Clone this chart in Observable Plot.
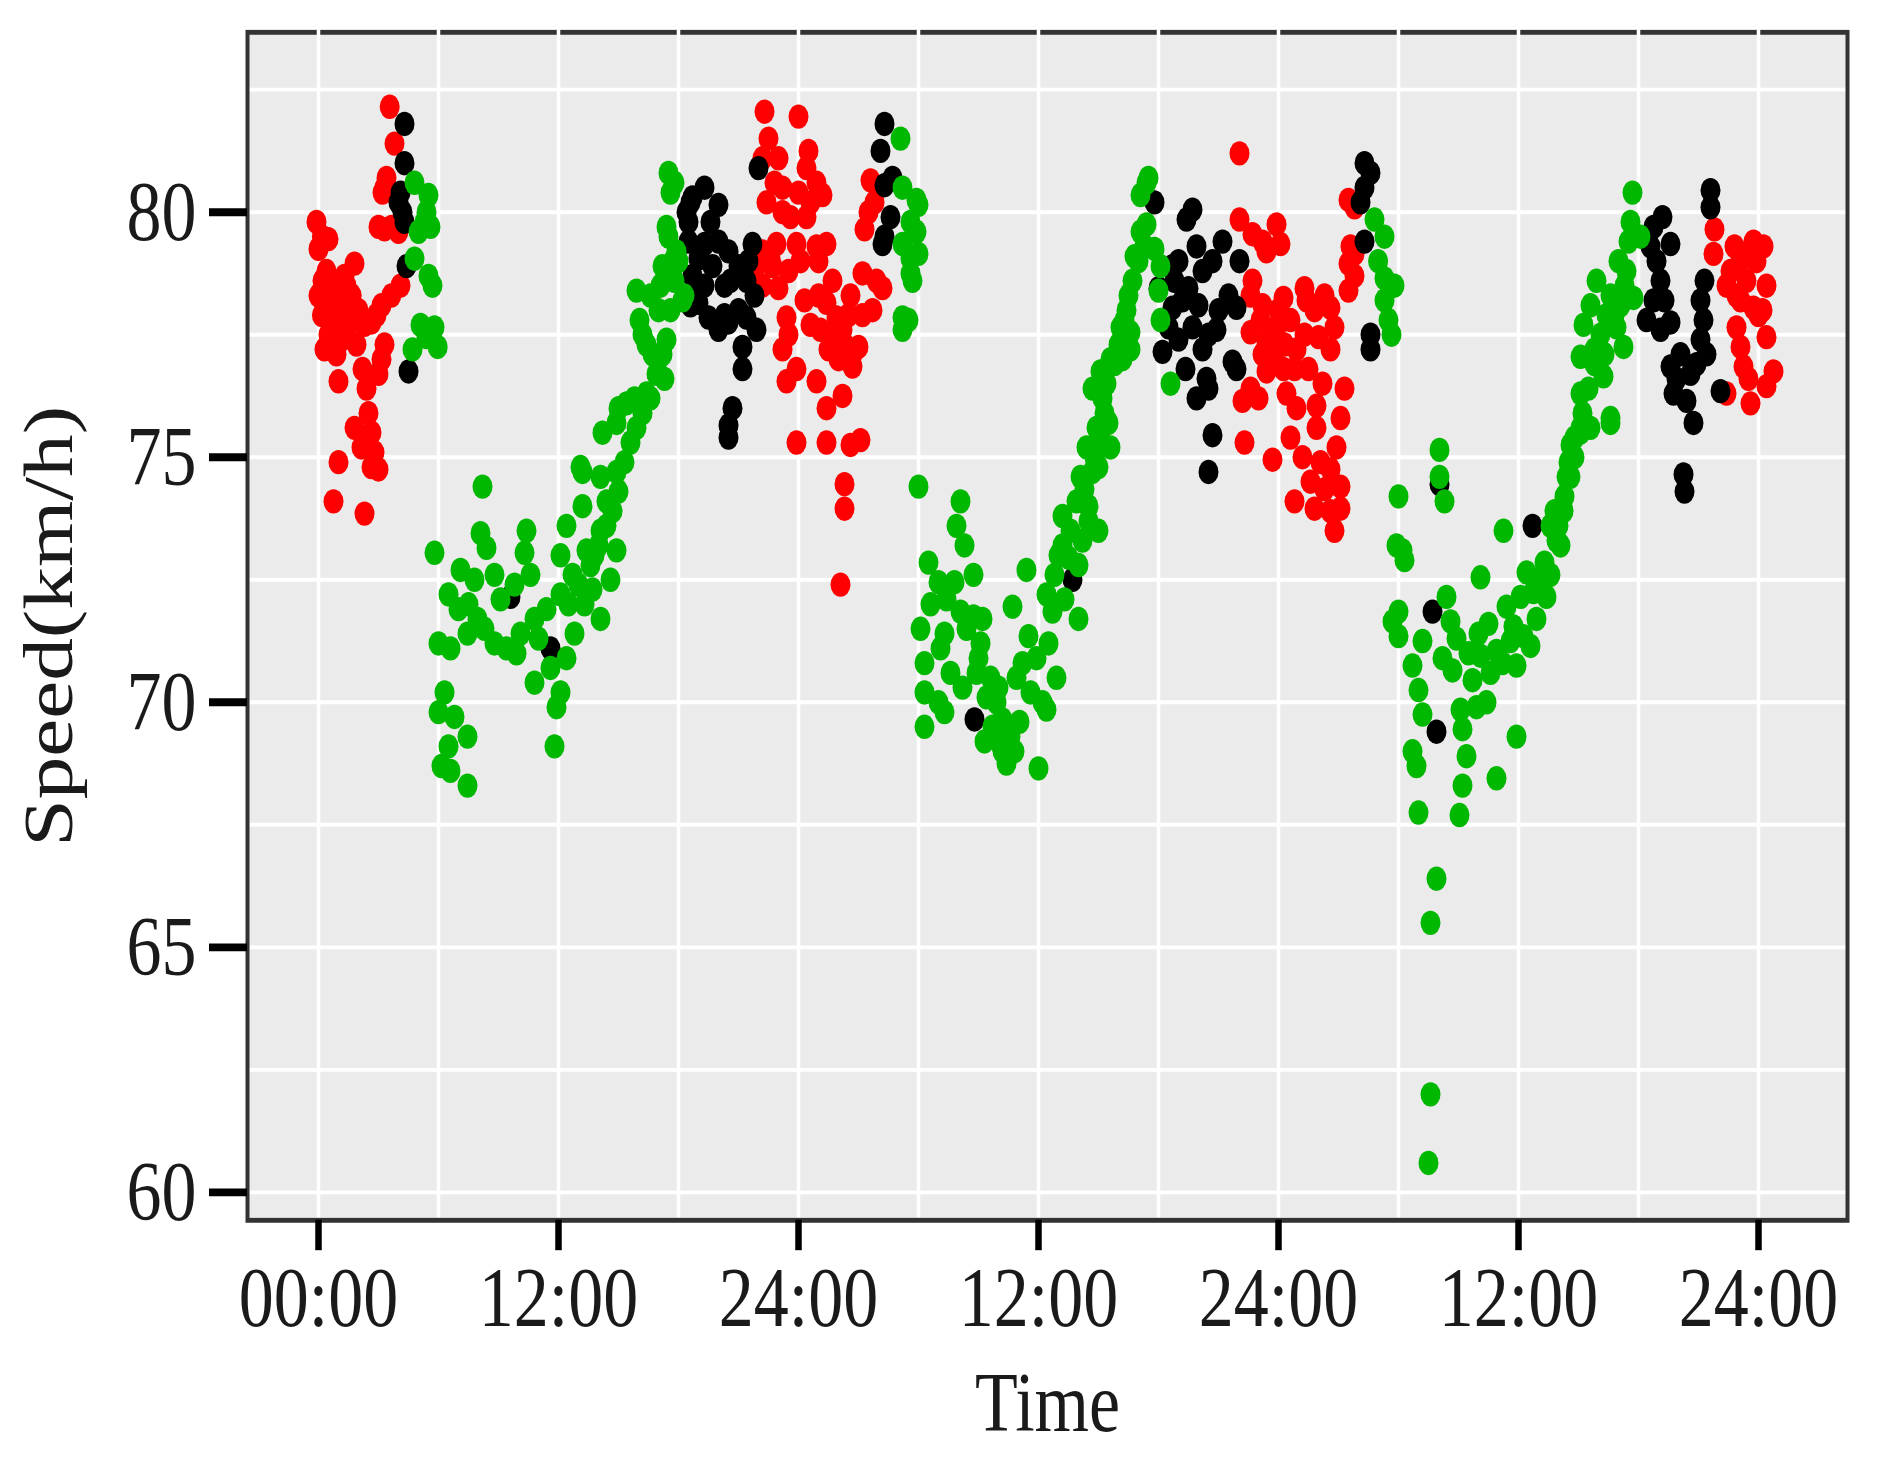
<!DOCTYPE html>
<html>
<head>
<meta charset="utf-8">
<script src="https://cdn.jsdelivr.net/npm/d3@7"></script>
<script src="https://cdn.jsdelivr.net/npm/@observablehq/plot@0.6"></script>
<style>
html, body { margin: 0; padding: 0; background: #fff; overflow: hidden; }
#chart svg { display: block; }
</style>
</head>
<body>
<div id="chart"></div>
<script>
// ---- data: [hour since start, speed km/h] ----
const red = [
  [3.56,82.15],[3.8,81.4],[3.4,80.7],[3.3,80.5],[3.2,80.4],
  [3.0,79.7],[3.3,79.65],[3.65,79.7],[4.0,79.6],
  [-0.1,79.8],[0.17,79.5],[0.5,79.45],[0.0,79.25],
  [1.8,78.95],[1.3,78.7],[0.66,78.6],[0.0,78.3],[0.33,78.2],[1.0,78.2],[1.66,78.3],[0.17,77.9],[0.83,77.8],[1.5,77.7],[0.5,77.5],[1.16,77.4],[2.0,78.0],[2.3,77.7],
  [0.4,78.8],[1.2,78.0],[0.9,77.1],[1.4,78.5],[0.2,78.6],
  [0.6,78.0],[1.6,77.9],[1.9,77.3],[2.2,76.8],[2.4,76.4],[0.3,77.2],
  [2.65,77.75],[3.15,78.1],[3.64,78.3],[4.1,78.5],[2.9,77.9],
  [3.3,77.3],[3.15,77.0],[3.0,76.7],[1.0,76.55],
  [2.5,75.9],[1.8,75.6],[2.65,75.5],[2.15,75.2],[2.8,75.1],[2.65,74.8],[3.0,74.75],
  [1.0,74.9],[0.75,74.1],[2.3,73.85],
  [22.3,82.05],[24.0,81.95],[22.5,81.5],
  [22.2,81.1],[23.0,81.1],[24.5,81.25],[24.4,80.9],[24.9,80.6],[23.2,80.5],[24.0,80.4],[22.4,80.2],[23.2,80.0],[24.4,79.9],[25.2,80.35],[24.6,80.2],[22.8,80.6],[23.6,79.9],
  [22.2,79.2],[22.9,79.35],[23.9,79.35],[24.9,79.3],[25.4,79.35],[21.9,78.9],[22.7,78.9],[23.5,78.8],[22.2,78.5],[23.0,78.45],[22.6,79.05],[24.1,79.0],[25.0,79.0],
  [25.0,78.3],[25.7,78.6],[27.2,78.75],[27.9,78.6],[28.2,78.45],[25.4,78.15],[26.6,78.3],[24.3,78.2],
  [27.6,80.65],[27.5,80.0],[27.3,79.65],[27.8,80.2],
  [23.4,77.85],[23.5,77.5],[23.2,77.2],[24.6,77.7],[25.1,77.6],[26.3,77.3],
  [25.9,77.85],[26.5,77.9],[27.2,77.9],[27.7,78.0],[25.7,77.5],[26.2,77.6],[25.5,77.2],[26.0,77.0],[26.7,77.1],[27.0,77.25],[26.7,76.85],
  [23.9,76.8],[23.4,76.55],[24.9,76.55],[25.4,76.0],[26.2,76.25],
  [23.9,75.3],[25.4,75.3],[26.6,75.25],[27.1,75.35],
  [26.3,74.45],[26.3,73.95],[26.1,72.4],
  [46.05,81.2],
  [46.05,79.85],[46.7,79.55],[47.2,79.4],[47.9,79.75],[48.1,79.35],[47.4,79.2],
  [46.7,78.6],[46.6,78.3],[47.2,78.1],[48.25,78.25],[49.3,78.45],[49.4,78.2],[47.1,77.8],[47.9,77.65],[48.6,77.8],[49.3,77.5],[50.0,77.45],[46.6,77.55],[47.4,77.35],[47.2,77.1],[47.4,76.75],[48.25,76.8],[48.8,76.8],
  [48.0,78.0],[47.6,77.6],[48.9,77.2],[47.8,77.0],[48.3,77.3],[49.8,78.0],[50.3,78.3],
  [50.6,78.05],[50.8,77.65],[50.6,77.2],[51.5,78.4],[51.8,78.7],[51.5,78.95],[51.6,79.3],[51.8,79.15],
  [51.5,80.25],[51.8,80.1],
  [46.6,76.4],[46.2,76.15],[46.3,75.3],[47.7,74.95],[48.6,75.4],[48.9,76.0],[49.9,76.05],[49.9,75.6],[51.1,75.8],[51.3,76.4],[50.1,74.9],[50.6,74.75],[51.1,74.4],[50.3,74.35],[48.8,74.1],[49.8,73.95],[50.6,73.9],[51.1,73.95],[50.8,73.5],
  [47.0,76.2],[48.4,76.3],[49.5,76.8],[50.2,76.5],[49.2,75.0],[49.6,74.5],[50.9,75.2],
  [69.8,79.65],[69.75,79.15],[71.75,79.4],[72.25,79.3],[71.1,79.0],[70.6,78.8],[70.4,78.5],[71.4,78.6],[72.4,78.5],[71.1,78.2],[71.75,78.05],[70.9,77.65],[72.4,77.45],[71.1,77.25],[71.25,76.85],[72.75,76.75],[72.4,76.45],[71.6,76.1],[70.4,76.3],[71.9,79.0],[70.8,79.3],
  [71.5,79.1],[70.9,78.3],[72.0,77.9],[72.2,78.0],[71.5,76.6]
];

const black = [
  [4.3,81.8],[4.3,81.0],[4.1,80.4],[4.0,80.2],[4.3,79.8],[4.4,78.9],[4.5,76.75],[4.2,80.0],
  [9.6,72.15],[11.6,71.1],
  [18.4,80.0],[18.7,80.3],[18.5,79.4],[18.7,78.7],[18.6,78.1],
  [19.3,80.5],[20.0,80.15],[18.6,80.2],[18.5,79.8],[19.3,79.35],[20.0,79.4],[19.0,79.05],[19.7,78.9],[20.5,79.2],[21.0,78.9],[21.7,79.35],[21.4,78.6],[20.3,78.5],[18.8,78.45],[19.0,78.15],[19.5,77.85],[20.0,77.6],[20.5,77.75],[21.0,78.0],[21.4,77.85],[21.9,77.6],[21.2,77.25],[21.2,76.8],[20.7,76.0],[20.5,75.65],[20.5,75.4],[22.0,80.9],
  [19.6,79.8],[20.6,78.6],[21.5,79.0],[19.3,78.5],[20.3,77.9],[21.8,78.3],
  [28.3,81.8],[28.1,81.25],[28.7,80.7],[28.3,80.55],[28.6,79.9],[28.3,79.5],[28.2,79.35],
  [32.8,69.65],[37.7,72.5],
  [41.8,80.2],[43.7,80.05],[43.4,79.85],[43.9,79.3],[45.2,79.4],[44.7,79.0],[46.05,79.0],[44.2,78.8],[42.8,78.6],[42.0,78.45],[43.5,78.45],[45.5,78.3],[45.9,78.05],[42.7,78.05],[43.2,78.2],[42.5,77.65],[43.7,77.65],[44.5,77.5],[44.9,77.6],[42.2,77.15],[43.35,76.8],[44.4,76.6],[44.5,76.4],[45.7,76.95],[45.9,76.8],[44.7,75.45],[44.5,74.7],[43.0,79.0],[44.0,78.1],
  [43.0,77.4],[44.2,77.2],[42.7,78.9],[45.0,78.0],[43.9,76.2],
  [52.3,81.0],[52.6,80.8],[52.3,80.5],[52.1,80.2],[52.3,79.4],[52.6,77.5],[52.6,77.2],
  [56.05,74.45],[55.7,71.85],[55.9,69.4],[60.7,73.6],
  [66.75,79.7],[67.6,79.35],[66.9,79.0],[67.1,78.6],[66.75,78.2],[66.4,77.8],[67.6,77.75],[67.1,77.6],[69.6,80.45],[69.6,80.1],[69.1,78.2],[69.25,77.8],[69.1,77.4],[67.6,76.85],[68.1,77.1],[68.6,76.7],[67.75,76.3],[68.4,76.15],[68.75,75.7],[68.25,74.65],[68.3,74.3],[70.1,76.35],[69.3,78.6],[67.2,79.9],
  [66.6,79.3],[67.3,78.2],[68.9,76.9],[67.9,76.6],[69.4,77.1]
];

const green = [
  [4.8,80.6],[5.5,80.35],[5.3,79.8],[5.6,79.7],[5.0,79.6],[4.8,79.05],[5.5,78.7],[5.7,78.5],[5.1,77.7],[5.8,77.65],[5.96,77.25],[4.7,77.2],[5.4,77.45],[5.4,80.0],
  [5.8,73.05],[8.2,74.4],[8.1,73.45],[8.4,73.15],[10.4,73.5],[10.3,73.05],
  [7.1,72.7],[7.8,72.5],[8.8,72.6],[6.5,72.2],[7.0,71.9],[6.0,71.2],[6.6,71.1],[7.45,71.4],[7.95,71.7],[9.1,72.1],[9.8,72.4],[10.6,72.6],
  [8.8,71.2],[9.4,71.1],[10.1,71.4],[10.8,71.7],[11.4,71.9],[12.1,72.2],[12.7,72.6],[13.4,73.1],[14.1,73.5],[14.7,73.9],[14.9,73.1],[14.6,72.5],[13.7,72.3],[14.1,71.7],[12.1,73.0],[12.4,73.6],[13.2,74.0],[13.2,74.7],[14.1,74.6],[14.9,74.7],[13.1,74.8],
  [9.9,71.0],[11.0,71.3],[12.5,72.0],[13.0,72.4],[13.8,73.0],[8.3,71.5],[7.5,72.0],
  [12.8,71.4],[13.3,72.0],[13.6,72.8],[14.0,73.2],[14.4,73.6],[14.4,74.1],[15.0,74.3],[15.3,74.9],[15.6,75.3],[15.9,75.6],[16.2,75.9],[16.6,76.2],[17.0,77.0],[17.4,77.4],[17.6,78.0],[17.0,78.0],[17.8,78.6],[18.0,79.0],
  [10.8,70.4],[11.6,70.7],[12.1,70.2],[12.4,70.9],[11.9,69.9],[11.8,69.1],
  [6.3,70.2],[6.0,69.8],[6.8,69.7],[7.45,69.3],[6.5,69.1],[6.15,68.7],[6.6,68.6],[7.45,68.3],
  [14.2,75.5],[14.9,75.7],[15.4,76.1],[16.4,76.3],[16.9,76.7],[16.7,77.1],[16.2,77.5],[16.05,77.8],[15.9,78.4],[16.6,78.3],[17.1,78.5],[17.2,78.9],[17.9,79.2],[18.2,78.2],[17.5,80.8],[17.6,80.4],[17.4,79.7],[15.0,76.0],[15.8,76.2],[16.4,77.3],
  [17.8,80.6],[17.5,79.5],[17.8,79.05],[17.3,78.6],[18.3,78.3],[17.2,77.1],[17.3,76.6],
  [29.1,81.5],[29.2,80.5],[29.9,80.25],[29.6,79.8],[29.9,79.6],[29.2,79.35],[29.6,79.05],[29.7,78.6],[29.2,77.85],[29.2,77.6],[30.0,80.15],[29.8,79.6],[30.0,79.15],[29.6,78.75],[29.5,77.8],
  [30.0,74.4],[32.1,74.1],[31.9,73.6],[32.3,73.2],[30.5,72.85],[31.0,72.45],[31.8,72.45],[30.6,72.0],[31.4,72.1],[32.1,71.85],[32.75,71.75],[33.2,71.7],[30.1,71.5],[31.3,71.4],[31.1,71.1],[32.4,71.5],[32.75,72.6],
  [30.3,70.8],[30.3,70.2],[31.0,70.0],[31.3,69.8],[30.3,69.5],
  [31.6,70.6],[32.2,70.3],[33.3,69.2],[34.8,69.0],[35.6,70.2],
  [33.1,71.2],[32.9,70.6],[33.6,70.5],[33.4,70.1],[33.9,70.0],[34.2,69.65],[33.7,69.5],[34.6,69.3],[34.1,69.15],[34.4,68.75],[34.2,69.0],[36.0,68.65],[35.05,69.6],[34.0,70.3],[33.0,70.9],
  [34.9,70.5],[35.5,71.35],[35.9,70.9],[36.5,71.2],[36.9,70.5],[36.2,70.0],[36.4,69.85],[35.2,70.8],[34.7,71.95],[35.4,72.7],
  [36.4,72.2],[36.7,71.85],[37.3,72.1],[38.0,71.7],
  [37.2,73.8],[37.2,73.2],[37.5,72.95],[38.0,72.8],[38.2,73.3],[38.5,73.7],[39.0,73.5],[38.5,74.0],[38.3,74.35],[38.7,74.7],[38.8,75.0],[39.1,75.35],[39.5,75.7],[39.3,75.9],[39.6,75.2],[39.0,74.8],
  [36.8,72.6],[37.0,73.0],[37.6,73.5],[37.9,74.1],[38.1,74.6],[38.4,75.2],[38.9,75.6],[39.2,76.2],[39.4,76.5],[39.8,76.9],[40.2,77.0],[40.4,78.0],[40.7,78.6],[41.0,79.0],[41.3,79.3],
  [38.7,76.4],[39.1,76.75],[39.6,77.0],[40.0,77.3],[40.1,77.65],[40.6,77.55],[40.3,77.8],[40.5,78.3],[40.6,77.2],
  [40.8,79.1],[41.1,79.6],[41.4,79.75],[41.8,79.25],[42.1,78.9],[41.4,80.6],[41.1,80.35],[42.1,77.8],[42.6,76.5],[41.5,80.7],[42.0,78.4],
  [52.8,79.85],[53.3,79.5],[52.98,79.0],[53.3,78.65],[53.8,78.5],[53.3,78.2],[53.5,77.8],[53.65,77.5],[54.0,74.2],[54.2,73.1],
  [56.05,75.15],[56.05,74.6],[56.3,74.1],[53.9,73.2],[54.3,72.9],[59.25,73.5],[58.1,72.55],
  [54.0,71.85],[53.7,71.65],[54.0,71.35],[55.2,71.25],[56.4,72.15],[56.6,71.65],[54.7,70.75],[55.0,70.25],[55.2,69.75],[54.7,69.0],[54.9,68.7],[55.0,67.75],[55.9,66.4],[55.6,65.5],[55.6,62.0],[55.5,60.6],
  [56.7,70.65],[57.1,69.85],[57.2,69.45],[57.4,68.9],[57.2,68.3],[57.05,67.7],[57.7,70.45],[58.4,70.0],[58.1,70.95],[58.9,71.05],[59.6,71.25],[59.9,70.75],[59.9,69.3],[58.9,68.45],[58.6,70.6],[59.2,70.8],
  [56.2,70.9],[57.5,71.0],[58.0,71.4],[58.5,71.6],[57.9,69.9],[56.9,71.3],
  [59.4,71.95],[59.75,71.55],[60.25,71.35],[60.6,71.15],[60.1,72.15],[60.75,72.25],[60.4,72.65],[61.3,72.85],[61.4,72.15],[61.9,73.3],[61.8,73.9],[62.3,74.2],[62.6,74.6],[62.8,75.0],[63.1,75.5],[63.6,75.6],[64.6,75.7],[61.0,72.5],[61.6,73.6],
  [60.9,71.7],[61.2,72.4],[61.6,72.6],[62.0,73.6],[62.2,74.0],[62.5,74.9],[62.8,75.4],[63.2,75.9],[63.5,76.4],[63.8,77.2],[64.3,77.1],[64.8,77.9],[65.3,78.5],[65.0,79.0],[65.5,79.4],
  [65.7,80.4],[65.6,79.8],[66.1,79.5],[65.4,78.8],[63.9,78.6],[63.6,78.1],[64.4,77.9],[65.1,78.1],[65.75,78.25],[63.25,77.7],[64.1,77.5],[64.9,77.65],[65.25,77.25],[63.1,77.05],[64.25,76.65],[63.1,76.3],[64.6,75.8],[63.1,75.6],[62.6,75.25],[62.4,74.6],[62.25,73.9],[62.1,73.2],[64.6,78.3],[63.8,76.9]
];

// ---- axes ----
const yTicks = [60, 65, 70, 75, 80];
const yGrid = [60, 62.5, 65, 67.5, 70, 72.5, 75, 77.5, 80, 82.5];
const xTickHours = [0, 12, 24, 36, 48, 60, 72];
const xTickLabels = ["00:00", "12:00", "24:00", "12:00", "24:00", "12:00", "24:00"];
const xGridHours = [0, 6, 12, 18, 24, 30, 36, 42, 48, 54, 60, 66, 72];
const xDomain = [-3.55, 76.45];
const yDomain = [59.43, 83.67];
const xTitle = "Time";
const yTitle = "Speed(km/h)";

// ---- layout (the original picture is stretched vertically; draw in a compressed frame and stretch) ----
const W = 1877, H = 1460, K = 1.2197;
const h = Math.round(H / K);
const fontFamily = "'Liberation Serif', 'Times New Roman', serif";
const textColor = "#1a1a1a";
const labelMap = new Map(xTickHours.map((d, i) => [d, xTickLabels[i]]));
const toRows = arr => arr.map(([t, v]) => ({t, v}));

const svg = Plot.plot({
  width: W,
  height: h,
  marginTop: 26,
  marginBottom: h - 1000,
  marginLeft: 247,
  marginRight: W - 1847,
  x: {domain: xDomain},
  y: {domain: yDomain},
  style: {fontFamily, background: "#fff", overflow: "visible"},
  marks: [
    Plot.frame({fill: "#ebebeb"}),
    Plot.ruleY(yGrid, {stroke: "#fff", strokeWidth: 3.2}),
    Plot.frame({stroke: "#333", strokeWidth: 4}),
    Plot.ruleX(xGridHours, {y1: yDomain[0] + 0.05, y2: yDomain[1] + 0.05, stroke: "#fff", strokeWidth: 3.5}),
    Plot.dot(toRows(red), {x: "t", y: "v", r: 10, fill: "#ff0000"}),
    Plot.dot(toRows(black), {x: "t", y: "v", r: 10, fill: "#000000"}),
    Plot.dot(toRows(green), {x: "t", y: "v", r: 10, fill: "#00b800"}),
    Plot.axisY(yTicks, {
      anchor: "left", label: null, tickSize: 38, tickPadding: 13,
      fontSize: 70, fontFamily, color: textColor, stroke: "#000", strokeWidth: 6.5
    }),
    Plot.axisX(xTickHours, {
      anchor: "bottom", label: null, tickSize: 25, tickPadding: 12,
      tickFormat: d => labelMap.get(d),
      fontSize: 70, fontFamily, color: textColor, stroke: "#000", strokeWidth: 6.5
    }),
    Plot.text([xTitle], {text: d => d, frameAnchor: "bottom", textAnchor: "middle", dy: 173, fontSize: 70, fontFamily, fill: textColor}),
    Plot.text([yTitle], {text: d => d, frameAnchor: "left", textAnchor: "middle", rotate: -90, dx: -198, fontSize: 70, fontFamily, fill: textColor})
  ]
});

svg.setAttribute("height", H);
svg.setAttribute("preserveAspectRatio", "none");
svg.style.width = W + "px";
svg.style.height = H + "px";
svg.style.maxWidth = "none";
document.getElementById("chart").appendChild(svg);
</script>
</body>
</html>
